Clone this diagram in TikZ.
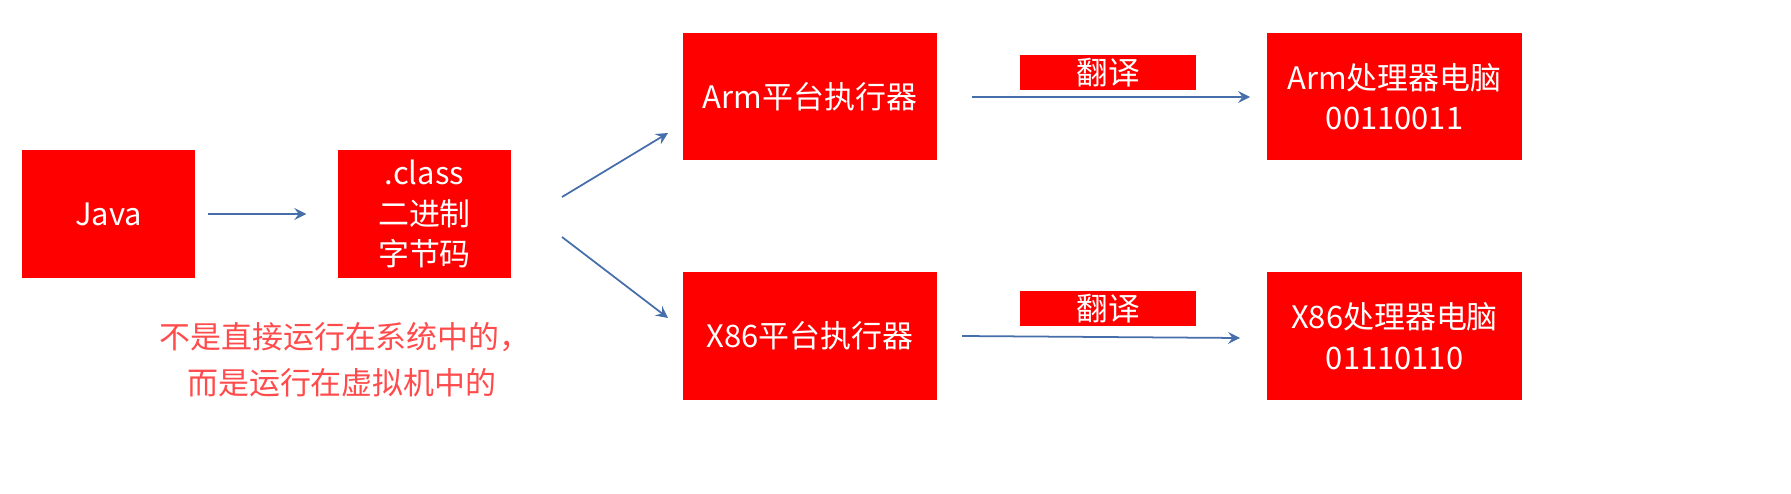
\documentclass[tikz,border=0pt]{standalone}
\usepackage{fontspec}
\setmainfont{Noto Sans CJK SC}
\definecolor{boxred}{RGB}{255,0,0}
\definecolor{notered}{RGB}{255,75,75}
\definecolor{arrowblue}{RGB}{70,110,170}
\tikzset{
  box/.style={fill=boxred, text=white, align=center, inner sep=0pt,
    font=\fontsize{8.8}{11.5}\selectfont},
  tag/.style={fill=boxred, text=white, inner sep=0pt,
    minimum width=1.76cm, minimum height=0.35cm, font=\fontsize{9}{10}\selectfont},
  link/.style={->, >=stealth, draw=arrowblue, line width=0.5pt}
}
\begin{document}
\begin{tikzpicture}
  \useasboundingbox (0,0) rectangle (17.91,-4.94);

  % boxes
  \node[box, minimum width=1.73cm, minimum height=1.28cm] (java) at (1.085,-2.14) {Java};
  \node[box, minimum width=1.73cm, minimum height=1.28cm] (cls) at (4.245,-2.14) {.class\\二进制\\字节码};
  \node[box, minimum width=2.54cm, minimum height=1.27cm] (armrun) at (8.10,-0.965) {Arm平台执行器};
  \node[box, minimum width=2.54cm, minimum height=1.28cm] (x86run) at (8.10,-3.36) {X86平台执行器};
  \node[box, minimum width=2.55cm, minimum height=1.27cm] (armpc) at (13.945,-0.965) {Arm处理器电脑\\00110011};
  \node[box, minimum width=2.55cm, minimum height=1.28cm] (x86pc) at (13.945,-3.36) {X86处理器电脑\\01110110};

  % labels
  \node[tag] (tagA) at (11.08,-0.725) {翻译};
  \node[tag] (tagB) at (11.08,-3.085) {翻译};

  % arrow ends
  \coordinate (c1) at (5.62,-1.97);
  \coordinate (c2) at (5.62,-2.37);
  \coordinate (a1) at (6.68,-1.33);
  \coordinate (x1) at (6.68,-3.18);
  \coordinate (a2) at (9.72,-0.97);
  \coordinate (a3) at (12.50,-0.97);
  \coordinate (x2) at (9.62,-3.36);
  \coordinate (x3) at (12.40,-3.38);

  % arrows
  \draw[link, shorten <=0.12cm, shorten >=0.31cm] (java.east) -- (cls.west);
  \draw[link] (c1) -- (a1);
  \draw[link] (c2) -- (x1);
  \draw[link] (a2) -- (a3);
  \draw[link] (x2) -- (x3);

  % note
  \node[text=notered, align=left, font=\fontsize{8.8}{13}\selectfont] (note) at (3.45,-3.60)
    {不是直接运行在系统中的，\\\hspace*{0.9em}而是运行在虚拟机中的};
\end{tikzpicture}
\end{document}
